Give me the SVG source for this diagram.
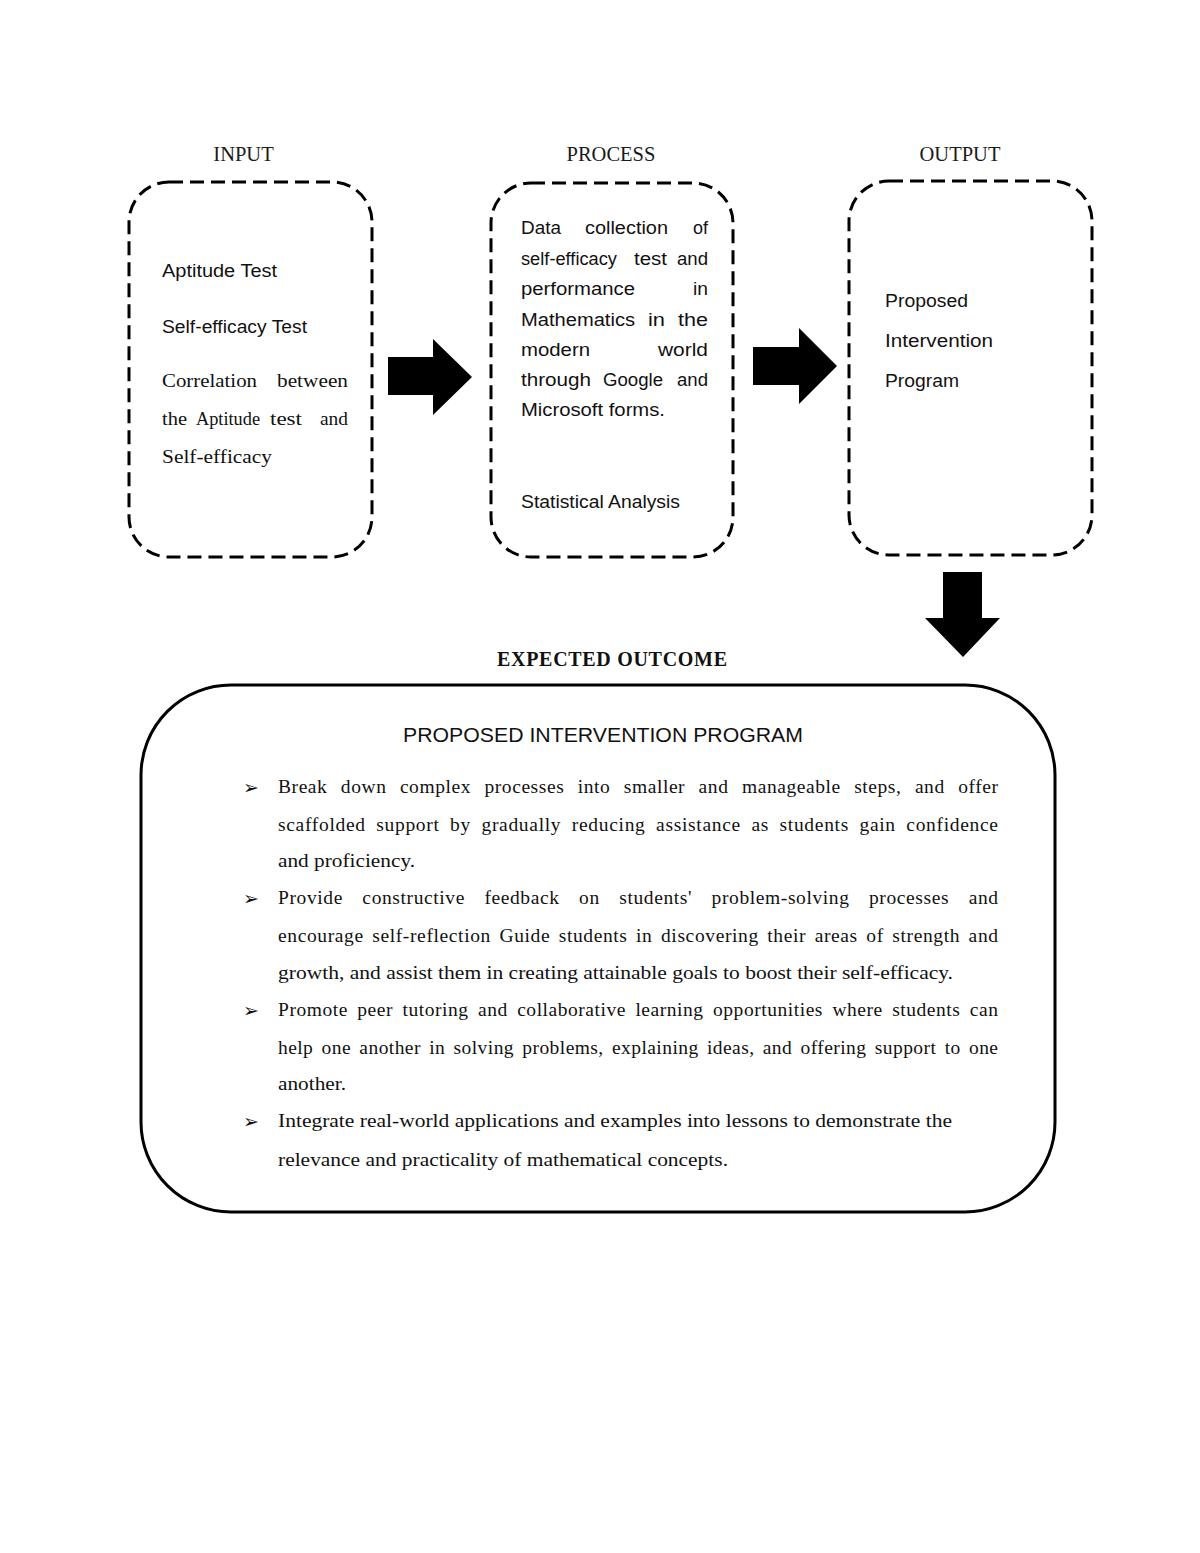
<svg xmlns="http://www.w3.org/2000/svg" width="1200" height="1553" viewBox="0 0 1200 1553">
<style>
.bg{fill:#ffffff}
.dbox{fill:none;stroke:#000;stroke-width:3;stroke-dasharray:14 7}
.sbox{fill:none;stroke:#000;stroke-width:3}
.hd{font-family:"Liberation Serif",serif;font-size:20.5px;fill:#1a1a1a}
.sans{font-family:"Liberation Sans",Arial,sans-serif;font-size:17.5px;fill:#111}
.ser{font-family:"Liberation Serif",serif;font-size:19.5px;fill:#111}
.blt{font-family:"DejaVu Sans",sans-serif;font-size:19px;fill:#111}
.arr{fill:#000}
</style>
<rect class="bg" x="0" y="0" width="1200" height="1553"/>

<g id="headers">
<text class="hd" x="243.5" y="161" text-anchor="middle">INPUT</text>
<text class="hd" x="611" y="161" text-anchor="middle">PROCESS</text>
<text class="hd" x="960" y="161" text-anchor="middle">OUTPUT</text>
</g>

<g id="input">
<rect class="dbox" x="129" y="182" width="243" height="375" rx="40"/>
<text class="sans" x="162" y="277" textLength="115" lengthAdjust="spacingAndGlyphs">Aptitude Test</text>
<text class="sans" x="162" y="333" textLength="145" lengthAdjust="spacingAndGlyphs">Self-efficacy Test</text>
<text class="ser" x="162" y="387" textLength="95" lengthAdjust="spacingAndGlyphs">Correlation</text>
<text class="ser" x="277" y="387" textLength="71" lengthAdjust="spacingAndGlyphs">between</text>
<text class="ser" x="162" y="425" textLength="25" lengthAdjust="spacingAndGlyphs">the</text>
<text class="ser" x="196" y="425" textLength="64" lengthAdjust="spacingAndGlyphs">Aptitude</text>
<text class="ser" x="270" y="425" textLength="32" lengthAdjust="spacingAndGlyphs">test</text>
<text class="ser" x="320" y="425" textLength="28" lengthAdjust="spacingAndGlyphs">and</text>
<text class="ser" x="162" y="463" textLength="110" lengthAdjust="spacingAndGlyphs">Self-efficacy</text>
</g>

<g id="process">
<rect class="dbox" x="491" y="183" width="242" height="374" rx="40"/>
<text class="sans" x="521" y="234" textLength="40" lengthAdjust="spacingAndGlyphs">Data</text>
<text class="sans" x="585" y="234" textLength="83" lengthAdjust="spacingAndGlyphs">collection</text>
<text class="sans" x="693" y="234" textLength="15" lengthAdjust="spacingAndGlyphs">of</text>
<text class="sans" x="521" y="265" textLength="96" lengthAdjust="spacingAndGlyphs">self-efficacy</text>
<text class="sans" x="634" y="265" textLength="33" lengthAdjust="spacingAndGlyphs">test</text>
<text class="sans" x="677" y="265" textLength="31" lengthAdjust="spacingAndGlyphs">and</text>
<text class="sans" x="521" y="295" textLength="114" lengthAdjust="spacingAndGlyphs">performance</text>
<text class="sans" x="693" y="295" textLength="15" lengthAdjust="spacingAndGlyphs">in</text>
<text class="sans" x="521" y="326" textLength="114" lengthAdjust="spacingAndGlyphs">Mathematics</text>
<text class="sans" x="648" y="326" textLength="17" lengthAdjust="spacingAndGlyphs">in</text>
<text class="sans" x="678" y="326" textLength="30" lengthAdjust="spacingAndGlyphs">the</text>
<text class="sans" x="521" y="356" textLength="69" lengthAdjust="spacingAndGlyphs">modern</text>
<text class="sans" x="658" y="356" textLength="50" lengthAdjust="spacingAndGlyphs">world</text>
<text class="sans" x="521" y="386" textLength="70" lengthAdjust="spacingAndGlyphs">through</text>
<text class="sans" x="603" y="386" textLength="60" lengthAdjust="spacingAndGlyphs">Google</text>
<text class="sans" x="677" y="386" textLength="31" lengthAdjust="spacingAndGlyphs">and</text>
<text class="sans" x="521" y="416" textLength="144" lengthAdjust="spacingAndGlyphs">Microsoft forms.</text>
<text class="sans" x="521" y="508" textLength="159" lengthAdjust="spacingAndGlyphs">Statistical Analysis</text>
</g>

<g id="output">
<rect class="dbox" x="849" y="181" width="243" height="374" rx="40"/>
<text class="sans" x="885" y="307" textLength="83" lengthAdjust="spacingAndGlyphs">Proposed</text>
<text class="sans" x="885" y="347" textLength="108" lengthAdjust="spacingAndGlyphs">Intervention</text>
<text class="sans" x="885" y="387" textLength="74" lengthAdjust="spacingAndGlyphs">Program</text>
</g>

<g id="connectors">
<polygon class="arr" points="388,357 433,357 433,339 472,377 433,415 433,395 388,395"/>
<polygon class="arr" points="753,347 799,347 799,328 837,366 799,404 799,385 753,385"/>
<polygon class="arr" points="943,572 982,572 982,618 1000,618 963,657 925,618 943,618"/>
</g>

<g id="outcome">
<text x="612" y="666" text-anchor="middle" font-family="Liberation Serif, serif" font-weight="bold" font-size="20px" textLength="230" lengthAdjust="spacing" fill="#111">EXPECTED OUTCOME</text>
<rect class="sbox" x="141" y="685" width="914" height="527" rx="90"/>
<text x="603" y="742" text-anchor="middle" font-family="Liberation Sans, Arial, sans-serif" font-size="20px" textLength="400" lengthAdjust="spacingAndGlyphs" fill="#111">PROPOSED INTERVENTION PROGRAM</text>

<text class="blt" x="243" y="794">➢</text>
<text class="blt" x="243" y="905">➢</text>
<text class="blt" x="243" y="1017">➢</text>
<text class="blt" x="243" y="1128">➢</text>

<text class="ser" x="278" y="793" word-spacing="8" textLength="720" lengthAdjust="spacing">Break down complex processes into smaller and manageable steps, and offer</text>
<text class="ser" x="278" y="831" word-spacing="5" textLength="720" lengthAdjust="spacing">scaffolded support by gradually reducing assistance as students gain confidence</text>
<text class="ser" x="278" y="867" textLength="137" lengthAdjust="spacingAndGlyphs">and proficiency.</text>
<text class="ser" x="278" y="904" word-spacing="14" textLength="720" lengthAdjust="spacing">Provide constructive feedback on students' problem-solving processes and</text>
<text class="ser" x="278" y="942" word-spacing="3" textLength="720" lengthAdjust="spacing">encourage self-reflection Guide students in discovering their areas of strength and</text>
<text class="ser" x="278" y="979" textLength="675" lengthAdjust="spacingAndGlyphs">growth, and assist them in creating attainable goals to boost their self-efficacy.</text>
<text class="ser" x="278" y="1016" word-spacing="4" textLength="720" lengthAdjust="spacing">Promote peer tutoring and collaborative learning opportunities where students can</text>
<text class="ser" x="278" y="1054" word-spacing="3" textLength="720" lengthAdjust="spacing">help one another in solving problems, explaining ideas, and offering support to one</text>
<text class="ser" x="278" y="1090" textLength="68" lengthAdjust="spacingAndGlyphs">another.</text>
<text class="ser" x="278" y="1127" textLength="674" lengthAdjust="spacingAndGlyphs">Integrate real-world applications and examples into lessons to demonstrate the</text>
<text class="ser" x="278" y="1166" textLength="450" lengthAdjust="spacingAndGlyphs">relevance and practicality of mathematical concepts.</text>
</g>
</svg>
